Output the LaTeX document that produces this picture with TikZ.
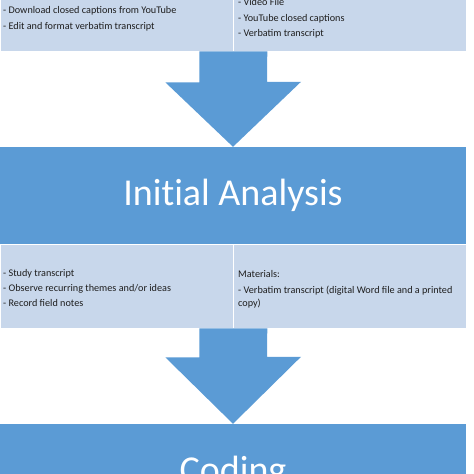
\documentclass[tikz,border=0pt]{standalone}
\usepackage{fontspec}
\setmainfont{Carlito}
\newfontfamily\stagefont{Carlito}[Ligatures=NoCommon]
\usetikzlibrary{calc}

\definecolor{stepblue}{RGB}{91,155,213}
\definecolor{panelblue}{RGB}{200,215,235}
\definecolor{notetext}{RGB}{30,30,30}

\begin{document}
\begin{tikzpicture}[x=1pt, y=1pt,
  panel/.style={fill=panelblue, draw=white, line width=0.6pt, inner sep=0pt, minimum width=233pt},
  stage/.style={fill=stepblue, text=white, inner sep=0pt, minimum width=466pt, minimum height=97pt, font=\stagefont\fontsize{38}{40}\selectfont},
  note/.style={anchor=north west, inner sep=0pt, align=left, text=notetext, font=\fontsize{10.2}{15.5}\selectfont},
  blockarrow/.style={fill=stepblue},
]
\useasboundingbox (0,0) rectangle (474,-474);
\clip (0,0) rectangle (474,-474);

% panels and stages
\node[panel, minimum height=80pt] (prepL) at (116.5,-11) {};
\node[panel, minimum height=80pt] (prepR) at (349.5,-11) {};
\node[stage] (ia) at (233,-195.5) {Initial Analysis};
\node[panel, minimum height=84pt] (studyL) at (116.5,-286) {};
\node[panel, minimum height=84pt] (studyR) at (349.5,-286) {};
\node[stage] (coding) at (233,-472.5) {Coding};

% notes
\node[note] (prepTasks) at (3,-6.5) {- Download closed captions from YouTube\\- Edit and format verbatim transcript};
\node[note] (prepFiles) at (238,1.5) {- Video File\\- YouTube closed captions\\- Verbatim transcript};
\node[note, font=\fontsize{10.2}{15}\selectfont] (studyTasks) at (3,-269.5) {- Study transcript\\- Observe recurring themes and/or ideas\\- Record field notes};
\node[note, font=\fontsize{10.2}{13}\selectfont] (studyFiles) at (238,-270) {Materials:\\[3pt]- Verbatim transcript (digital Word file and a printed\\copy)};

% arrows
\fill[blockarrow] ($(prepL.south east)+(-34,0)$) -- ++(0,-31) -- ++(-34,0) -- (ia.north) -- ++(68,65) -- ++(-34,0) -- ($(prepL.south east)+(34,0)$) -- cycle;
\fill[blockarrow] ($(studyL.south east)+(-34,0)$) -- ++(0,-29) -- ++(-34,0) -- (coding.north) -- ++(68,67) -- ++(-34,0) -- ($(studyL.south east)+(34,0)$) -- cycle;
\end{tikzpicture}
\end{document}
